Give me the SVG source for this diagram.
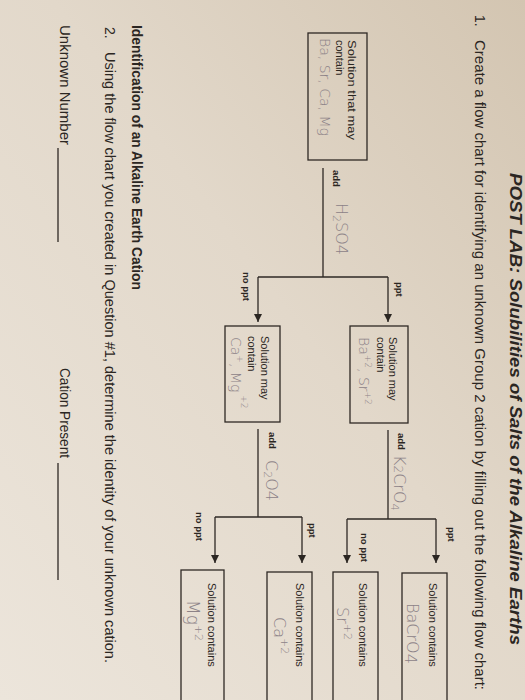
<svg xmlns="http://www.w3.org/2000/svg" width="525" height="700" viewBox="0 0 525 700">
<defs>
  <linearGradient id="paper" x1="1" y1="0" x2="0" y2="1">
    <stop offset="0" stop-color="#d3c5b1"/>
    <stop offset="0.45" stop-color="#e2d8ca"/>
    <stop offset="1" stop-color="#ece5db"/>
  </linearGradient>
  <marker id="ah" markerWidth="9" markerHeight="9" refX="8" refY="4.5" orient="auto" markerUnits="userSpaceOnUse">
    <path d="M0,0.5 L8,4.5 L0,8.5 z" fill="#2b2622"/>
  </marker>
  <style>
    .t{font-family:"Liberation Sans",Arial,sans-serif;fill:#2b2622}
    .body{font-size:14px}
    .bt{font-size:11px}
    .lbl{font-size:9.5px;font-weight:bold}
    .box{fill:none;stroke:#2e2824;stroke-width:1.3}
    .ln{fill:none;stroke:#2e2824;stroke-width:1.3}
    .hw{font-family:"DejaVu Sans",sans-serif;font-weight:200;fill:#8c8287}
  </style>
</defs>
<rect x="0" y="0" width="525" height="700" fill="url(#paper)"/>
<g transform="translate(525,0) rotate(90)">
  <g id="header">
    <text class="t" x="173" y="15" font-size="16.5" font-weight="bold" font-style="italic" textLength="472" lengthAdjust="spacingAndGlyphs">POST LAB: Solubilities of Salts of the Alkaline Earths</text>
    <text class="t body" x="15" y="50">1.</text>
    <text class="t body" x="40" y="50" textLength="650" lengthAdjust="spacingAndGlyphs">Create a flow chart for identifying an unknown Group 2 cation by filling out the following flow chart:</text>
  </g>
  <g id="connectors">
    <line class="ln" x1="168" y1="202" x2="277" y2="202"/>
    <line class="ln" x1="277" y1="137" x2="277" y2="267"/>
    <line class="ln" x1="277" y1="137" x2="322" y2="137" marker-end="url(#ah)"/>
    <line class="ln" x1="277" y1="267" x2="322" y2="267" marker-end="url(#ah)"/>
    <text class="t lbl" x="170" y="192">add</text>
    <text class="hw" x="203" y="189" font-size="16">H<tspan font-size="11" dy="3">2</tspan><tspan dy="-3">SO4</tspan></text>
    <text class="t lbl" x="282" y="129">ppt</text>
    <text class="t lbl" x="272" y="282">no ppt</text>

    <line class="ln" x1="430" y1="137" x2="519" y2="137"/>
    <line class="ln" x1="519" y1="89" x2="519" y2="178"/>
    <line class="ln" x1="519" y1="89" x2="563" y2="89" marker-end="url(#ah)"/>
    <line class="ln" x1="519" y1="178" x2="563" y2="178" marker-end="url(#ah)"/>
    <text class="t lbl" x="433" y="127">add</text>
    <text class="hw" x="455" y="131" font-size="16">K<tspan font-size="12">2</tspan>CrO<tspan font-size="11" dy="3">4</tspan></text>
    <text class="t lbl" x="527" y="77">ppt</text>
    <text class="t lbl" x="533" y="164">no ppt</text>

    <line class="ln" x1="429" y1="267" x2="517" y2="267"/>
    <line class="ln" x1="517" y1="223" x2="517" y2="310"/>
    <line class="ln" x1="517" y1="223" x2="563" y2="223" marker-end="url(#ah)"/>
    <line class="ln" x1="517" y1="310" x2="563" y2="310" marker-end="url(#ah)"/>
    <text class="t lbl" x="432" y="256">add</text>
    <text class="hw" x="460" y="259" font-size="16">C<tspan font-size="11" dy="2">2</tspan><tspan dy="-2">O4</tspan></text>
    <text class="t lbl" x="523" y="216">ppt</text>
    <text class="t lbl" x="512" y="329">no ppt</text>
  </g>
  <g id="start">
    <rect class="box" x="33" y="158" width="127" height="59"/>
    <text class="t bt" x="40" y="177" textLength="100" lengthAdjust="spacingAndGlyphs">Solution that may</text>
    <text class="t bt" x="40" y="189">contain</text>
    <text class="hw" x="38" y="205" font-size="14">Ba, Sr, Ca, Mg</text>
  </g>
  <g id="ba-sr">
    <rect class="box" x="326" y="117" width="97" height="58"/>
    <text class="t bt" x="337" y="136">Solution may</text>
    <text class="t bt" x="337" y="148">contain</text>
    <text class="hw" x="337" y="166" font-size="14">Ba<tspan font-size="9" dy="-6">+2</tspan><tspan dy="6">, Sr</tspan><tspan font-size="9" dy="-6">+2</tspan></text>
  </g>
  <g id="ca-mg">
    <rect class="box" x="326" y="245" width="96" height="55"/>
    <text class="t bt" x="336" y="264">Solution may</text>
    <text class="t bt" x="336" y="277">contain</text>
    <text class="hw" x="337" y="294" font-size="14">Ca<tspan font-size="9" dy="-6">+</tspan><tspan dy="6">, Mg</tspan><tspan font-size="9" dy="-10"> +2</tspan></text>
  </g>
  <g id="ba">
    <rect class="box" x="573" y="78" width="140" height="45"/>
    <text class="t bt" x="583" y="96">Solution contains</text>
    <text class="hw" x="603" y="118" font-size="16">BaCrO<tspan dy="2">4</tspan></text>
  </g>
  <g id="sr">
    <rect class="box" x="572" y="147" width="140" height="45"/>
    <text class="t bt" x="583" y="166">Solution contains</text>
    <text class="hw" x="607" y="188" font-size="16">Sr<tspan font-size="11" dy="-7">+2</tspan></text>
  </g>
  <g id="ca">
    <rect class="box" x="572" y="213" width="140" height="45"/>
    <text class="t bt" x="583" y="229">Solution contains</text>
    <text class="hw" x="617" y="251" font-size="16">Ca<tspan font-size="11" dy="-7">+2</tspan></text>
  </g>
  <g id="mg">
    <rect class="box" x="570" y="301" width="140" height="43"/>
    <text class="t bt" x="583" y="317">Solution contains</text>
    <text class="hw" x="600" y="338" font-size="17">Mg<tspan font-size="11" dy="-8">+2</tspan></text>
  </g>
  <g id="footer">
    <text class="t" x="25" y="393" font-size="14" font-weight="bold" textLength="265" lengthAdjust="spacingAndGlyphs">Identification of an Alkaline Earth Cation</text>
    <text class="t body" x="27" y="420">2.</text>
    <text class="t body" x="52" y="420" textLength="611" lengthAdjust="spacingAndGlyphs">Using the flow chart you created in Question #1, determine the identity of your unknown cation.</text>
    <text class="t body" x="25" y="465" textLength="120" lengthAdjust="spacingAndGlyphs">Unknown Number</text>
    <line class="ln" x1="148" y1="467" x2="242" y2="467"/>
    <text class="t body" x="368" y="465" textLength="90" lengthAdjust="spacingAndGlyphs">Cation Present</text>
    <line class="ln" x1="463" y1="467" x2="580" y2="467"/>
  </g>
</g>
</svg>
